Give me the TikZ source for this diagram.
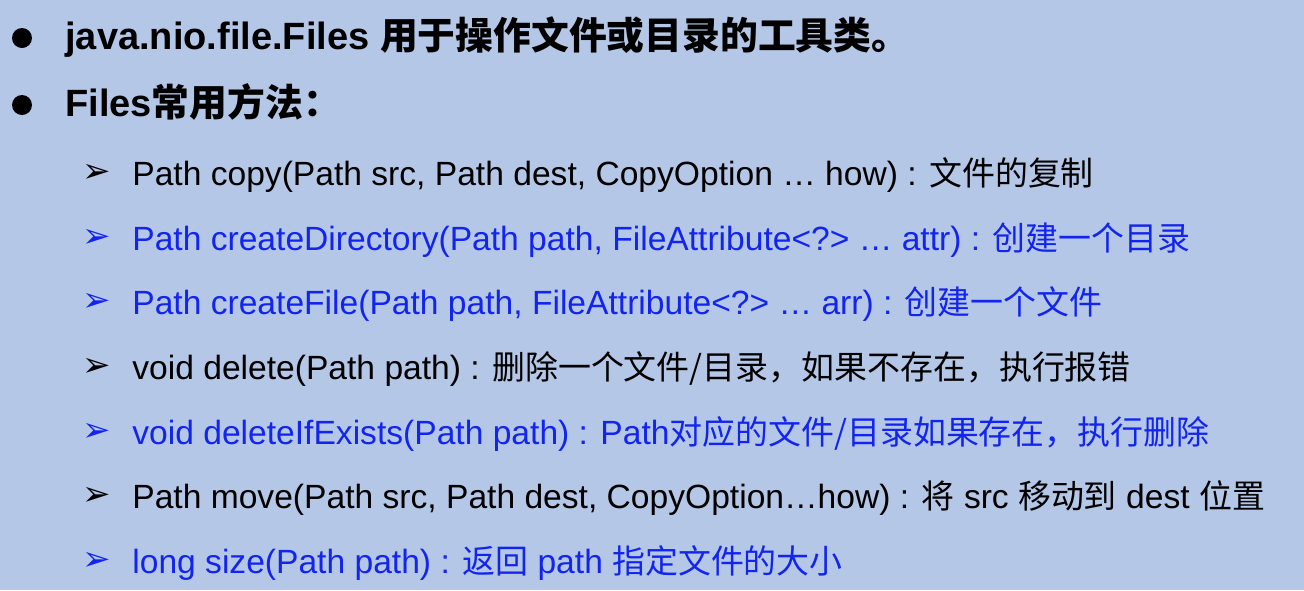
\documentclass[tikz,border=0pt]{standalone}
\usepackage{fontspec}
\setmainfont{Liberation Sans}
\newfontfamily\cjk[Scale=0.98]{Noto Sans CJK SC}
\newfontfamily\hcjk[Scale=1.0]{Noto Sans CJK SC}
\newfontfamily\dv{DejaVu Sans}
\definecolor{bg}{RGB}{180,199,231}
\definecolor{bl}{RGB}{18,36,238}
\tikzset{
  head/.style={anchor=base west,inner sep=0,font=\fontsize{19}{22}\selectfont\bfseries},
  item/.style={anchor=base west,inner sep=0,font=\fontsize{16.8}{20}\selectfont},
  arr/.style={anchor=center,inner sep=0,font=\dv\fontsize{17}{18}\selectfont},
  dot/.style={circle,fill=black,minimum size=10pt,inner sep=0}
}
\begin{document}
\begin{tikzpicture}[x=0.5pt,y=-0.5pt]
\fill[bg] (0,0) rectangle (1304,590);
\useasboundingbox (0,0) rectangle (1304,590);
\node[dot] (b1) at (22,38) {};
\node[dot] (b2) at (22,105) {};
\node[head] (h1) at (65,49) {java.nio.file.Files {\hcjk\fontsize{18.9}{22}\selectfont 用于操作文件或目录的工具类。}};
\node[head] (h2) at (65,116) {Files{\hcjk\fontsize{18.9}{22}\selectfont 常用方法：}};
\foreach \y/\c/\t [count=\i] in {
 173/black/{Path copy(Path src, Path dest, CopyOption … how) : {\cjk 文件的复制}},
 238/bl/{Path createDirectory(Path path, FileAttribute<?> … attr) : {\cjk 创建一个目录}},
 302/bl/{Path createFile(Path path, FileAttribute<?> … arr) : {\cjk 创建一个文件}},
 367/black/{void delete(Path path) : {\cjk 删除一个文件/目录，如果不存在，执行报错}},
 432/bl/{void deleteIfExists(Path path) : Path{\cjk 对应的文件/目录如果存在，执行删除}},
 496/black/{Path move(Path src, Path dest, CopyOption…how) : {\cjk 将} src {\cjk 移动到} dest {\cjk 位置}},
 561/bl/{long size(Path path) : {\cjk 返回} path {\cjk 指定文件的大小}}}
{
 \node[arr,text=\c] (a\i) at (97,\y) {➢};
 \node[item,text=\c] (t\i) at (132,\y+12) {\t};
}
\end{tikzpicture}
\end{document}
